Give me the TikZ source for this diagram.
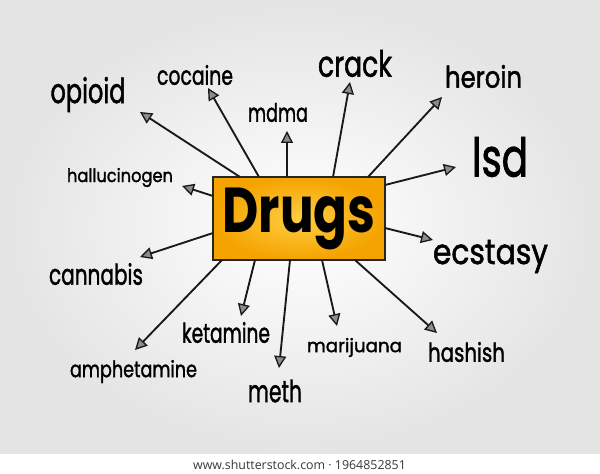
\documentclass[tikz,border=0pt]{standalone}
\usepackage{fontspec}
\usepackage{graphicx}
\setmainfont{Poppins}
\newfontfamily\labfont[FakeBold=1.6]{Poppins}
\newfontfamily\footfont{Open Sans}
\usetikzlibrary{arrows.meta}
\definecolor{boxin}{RGB}{255,206,66}
\definecolor{boxout}{RGB}{244,163,0}
\definecolor{bgout}{RGB}{228,228,228}
\tikzset{
  lbl/.style={inner sep=0pt, anchor=center, text=black, font=\labfont},
  arr/.style={line width=1.4pt, draw=black!90,
    -{Triangle[length=9pt,width=9pt,fill=black!45,line width=1pt]}},
  drugbox/.style={draw=black!85, line width=1.3pt, shading=radial,
    inner color=boxin, outer color=boxout,
    minimum width=129pt, minimum height=62.25pt, inner sep=0pt},
}
\newcommand{\lab}[3]{\resizebox*{#1pt}{#2pt}{#3}}
\begin{document}
\begin{tikzpicture}[x=0.75pt,y=-0.75pt]
\useasboundingbox (0,0) rectangle (600,474);
\shade[inner color=white, outer color=bgout] (0,0) rectangle (600,454);
\fill[white] (0,454) rectangle (600,474);

\node[drugbox] (box) at (299,218.5) {\lab{114.75}{46.5}{\bfseries Drugs}};

\node[lbl] (opioid) at (88,94.5) {\lab{56.25}{26.25}{opioid}};
\node[lbl] (cocaine) at (195,75) {\lab{57}{15}{cocaine}};
\node[lbl] (mdma) at (278,112.5) {\lab{45}{14.25}{mdma}};
\node[lbl] (hallucinogen) at (120,177.5) {\lab{79.5}{14.25}{hallucinogen}};
\node[lbl] (crack) at (355,63.5) {\lab{55.5}{20.25}{crack}};
\node[lbl] (heroin) at (483.5,76.5) {\lab{57.75}{17.25}{heroin}};
\node[lbl] (lsd) at (500,157) {\lab{42}{30}{lsd}};
\node[lbl] (ecstasy) at (490.5,256.5) {\lab{86.25}{24.75}{ecstasy}};
\node[lbl] (cannabis) at (96,274) {\lab{70.5}{16.5}{cannabis}};
\node[lbl] (amphetamine) at (133.5,371.5) {\lab{95.25}{17.25}{amphetamine}};
\node[lbl] (ketamine) at (226,332.5) {\lab{66}{15.75}{ketamine}};
\node[lbl] (meth) at (275,391) {\lab{40.5}{17.25}{meth}};
\node[lbl] (marijuana) at (354.5,347.5) {\lab{71.25}{14.25}{marijuana}};
\node[lbl] (hashish) at (466.5,352) {\lab{57.75}{15}{hashish}};

% arrow start points on the box edge and tips
\coordinate (s1) at (240,177);  \coordinate (t1) at (140,112);
\coordinate (s2) at (259,177);  \coordinate (t2) at (208,88);
\coordinate (s3) at (287,177);  \coordinate (t3) at (287,131);
\coordinate (s4) at (213,196);  \coordinate (t4) at (182,186);
\coordinate (s5) at (333,177);  \coordinate (t5) at (350,82);
\coordinate (s6) at (368,177);  \coordinate (t6) at (442,97);
\coordinate (s7) at (385,185);  \coordinate (t7) at (456,167);
\coordinate (s8) at (385,228);  \coordinate (t8) at (433,240);
\coordinate (s9) at (213,233);  \coordinate (t9) at (140,257);
\coordinate (s10) at (222,260); \coordinate (t10) at (135,350);
\coordinate (s11) at (255,260); \coordinate (t11) at (241,316);
\coordinate (s12) at (290,260); \coordinate (t12) at (279,368);
\coordinate (s13) at (322,260); \coordinate (t13) at (337,326);
\coordinate (s14) at (355,260); \coordinate (t14) at (437,333);
\foreach \i in {1,...,14} { \draw[arr] (s\i) -- (t\i); }

\node[font=\footfont\fontsize{9.3}{11}\selectfont, text=black!78, inner sep=0pt] (footer) at (299.5,464.5) {www.shutterstock.com · 1964852851};
\end{tikzpicture}
\end{document}
